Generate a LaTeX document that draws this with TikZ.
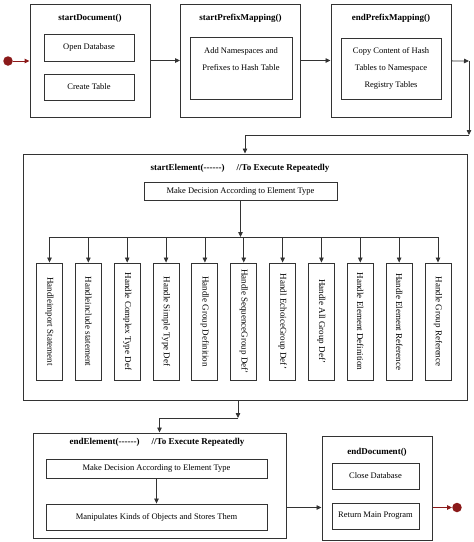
\documentclass[tikz,border=0pt]{standalone}
\usepackage{fontspec}
\setmainfont{Liberation Serif}
\usetikzlibrary{arrows.meta}
\definecolor{dred}{HTML}{8B1A1A}
\definecolor{lin}{HTML}{333333}
\tikzset{
  box/.style={draw=lin,line width=0.9pt,rectangle,inner sep=0pt,font=\fontsize{8.5}{17}\selectfont,align=center},
  outer/.style={draw=lin,line width=1pt,rectangle,inner sep=0pt},
  title/.style={font=\fontsize{9}{10}\selectfont\bfseries,inner sep=0pt},
  vbox/.style={draw=lin,line width=0.9pt,rectangle,inner sep=0pt,rotate=-90,minimum width=117pt,minimum height=26pt,font=\fontsize{9}{10}\selectfont},
  arr/.style={draw=lin,line width=0.8pt,-{Triangle[length=5pt,width=4.5pt]}},
  ln/.style={draw=lin,line width=0.8pt},
  redarr/.style={draw=dred,line width=1pt,-{Triangle[length=5pt,width=4.5pt]}},
  dot/.style={circle,fill=dred,inner sep=0pt,minimum size=9.5pt},
}
\begin{document}
\begin{tikzpicture}[x=1pt,y=-1pt]
\useasboundingbox (0,0) rectangle (474,542);
% top row
\node[outer,minimum width=120pt,minimum height=113pt] (sd) at (90,60.5) {};
\node[title] (sdt) at (90,18) {startDocument()};
\node[box,minimum width=90pt,minimum height=27pt] (odb) at (89,47.5) {Open Database};
\node[box,minimum width=90pt,minimum height=26pt] (ct) at (89,87) {Create Table};

\node[outer,minimum width=120pt,minimum height=113pt] (spm) at (240.5,60.5) {};
\node[title] (spmt) at (240.5,18) {startPrefixMapping()};
\node[box,minimum width=102pt,minimum height=62pt] (ans) at (241,68) {Add Namespaces and\\Prefixes to Hash Table\\\mbox{}};

\node[outer,minimum width=120pt,minimum height=113pt] (epm) at (391,60.5) {};
\node[title] (epmt) at (391,18) {endPrefixMapping()};
\node[box,minimum width=100pt,minimum height=61pt] (cch) at (391,68.5) {Copy Content of Hash\\Tables to Namespace\\Registry Tables};

\node[dot] (start) at (8,61) {};
\draw[redarr] (start) -- (sd.west |- start);
\draw[arr] (sd) -- (spm);
\draw[arr] (spm) -- (epm);
\coordinate (c1) at (469,61);
\coordinate (c2) at (469,135);
\draw[arr] (epm) -- (c1);
\draw[arr] (c1) -- (c2);

% startElement
\node[outer,minimum width=444pt,minimum height=246pt] (se) at (245,277) {};
\draw[arr] (c2) -| (se);
\node[title] (set) at (240,168) {startElement(-{}-{}-{}-{}-{}-)\hspace{12pt}//To Execute Repeatedly};
\node[box,minimum width=193pt,minimum height=18pt] (dec) at (240.5,191) {Make Decision According to Element Type};
\coordinate (bus) at (240.5,237);
\draw[arr] (dec) -- (bus);
\draw[ln] (48.5,237) coordinate (busl) -- (438.5,237) coordinate (busr);
\foreach \i/\t in {0/Handleimport Statement,1/Handleinclude statement,2/Handle Complex Type Def,3/Handle Simple Type Def,4/Handle Group Definition,5/Handle SequenceGroup Def',6/Handl EchoiceGroup Def',7/Handle All Group Def',8/Handle Element Definition,9/Handle Element Reference,10/Handle Group Reference}{
  \node[vbox] (v\i) at ({49.5+38.85*\i},321.5) {\t};
  \coordinate (b\i) at ({49.5+38.85*\i},237);
  \draw[arr] (b\i) -- (v\i);
}

% endElement
\node[outer,minimum width=253pt,minimum height=105pt] (ee) at (159.5,485.5) {};
\coordinate (d1) at (238,418);
\draw[arr] (se.south -| d1) -- (d1);
\draw[arr] (d1) -| (ee);
\node[title] (eet) at (157,442) {endElement(-{}-{}-{}-{}-{}-)\hspace{12pt}//To Execute Repeatedly};
\node[box,minimum width=221pt,minimum height=19pt] (dec2) at (156.5,468.5) {Make Decision According to Element Type};
\node[box,minimum width=221pt,minimum height=26pt] (man) at (156.5,517) {Manipulates Kinds of Objects and Stores Them};
\draw[arr] (dec2) -- (man);

% endDocument
\node[outer,minimum width=110pt,minimum height=104pt] (ed) at (377,488.5) {};
\node[title] (edt) at (377,452) {endDocument()};
\node[box,minimum width=87pt,minimum height=26pt] (cdb) at (375.5,476) {Close Database};
\node[box,minimum width=87pt,minimum height=26pt] (rmp) at (375.5,516) {Return Main Program};
\coordinate (e1) at (300,507.5);
\draw[arr] (ee.east |- e1) -- (ed.west |- e1);
\node[dot] (stop) at (457,507.5) {};
\draw[redarr] (ed.east |- stop) -- (stop);
\end{tikzpicture}
\end{document}
